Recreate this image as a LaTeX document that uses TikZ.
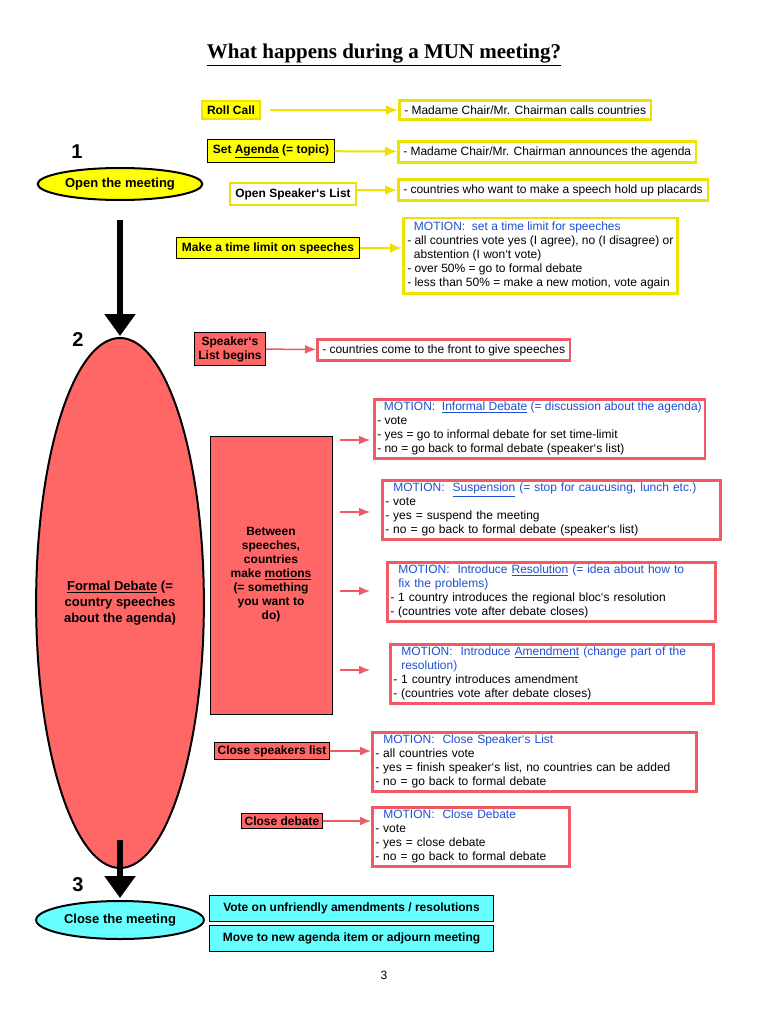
\documentclass[tikz,border=0pt]{standalone}
\usepackage{fontspec}
\setmainfont{Liberation Sans}
\newfontfamily\titlefont{Liberation Serif}
\usetikzlibrary{arrows.meta,positioning,shapes.geometric}
\definecolor{munyellow}{HTML}{FFFF00}
\definecolor{munyline}{HTML}{EEE000}
\definecolor{munred}{HTML}{FF6666}
\definecolor{munrline}{HTML}{F05A64}
\definecolor{muncyan}{HTML}{66FFFF}
\definecolor{munblue}{HTML}{1E50D2}
\newcommand{\bq}{{\char96}}
\begin{document}
\begin{tikzpicture}[x=1pt,y=-1pt,font=\fontsize{12}{14}\selectfont,
  ybox/.style={draw=munyline,line width=2pt,fill=munyellow,font=\fontsize{12}{14}\selectfont\bfseries,inner sep=5pt},
  ytext/.style={draw=munyline,line width=2.5pt,fill=white,anchor=north west,align=left,inner sep=5pt},
  rbox/.style={draw=munrline,line width=1.5pt,fill=munred,font=\fontsize{12}{14}\selectfont\bfseries,inner sep=4pt,align=center},
  rtext/.style={draw=munrline,line width=2.5pt,fill=white,anchor=north west,align=left,inner sep=3pt},
  cbox/.style={draw=black,line width=1pt,fill=muncyan,font=\fontsize{12}{14}\selectfont\bfseries,anchor=north west,minimum width=284pt,minimum height=26pt,align=left,inner sep=3pt},
  yarr/.style={-{Latex[length=12pt,width=10pt]},munyline,line width=2pt},
  rarr/.style={-{Latex[length=11pt,width=9pt]},munrline,line width=1.5pt},
  barr/.style={-{Triangle[length=22pt,width=30pt]},black,line width=6pt},
  num/.style={font=\fontsize{20}{22}\selectfont\bfseries}]
\useasboundingbox (0,0) rectangle (768,1024);
\node[font=\titlefont\fontsize{21}{24}\selectfont\bfseries] (title) at (384,55) {\underline{What happens during a MUN meeting?}};
% opening
\node[num] (n1) at (77,152) {1};
\node[ellipse,draw=black,line width=2pt,fill=munyellow,minimum width=158pt,minimum height=32pt,font=\fontsize{13}{15}\selectfont\bfseries] (open) at (120,184) {Open the meeting};
\node[ybox] (roll) at (231,110) {Roll Call};
\node[ytext,anchor=west] (rollT) at (398,110) {- Madame Chair/Mr. Chairman calls countries};
\path[yarr] (270,110) edge (rollT);
\node[ybox,draw=black,line width=1pt] (agenda) at (271,151) {Set \underline{Agenda} (= topic)};
\node[ytext,anchor=west] (agendaT) at (397,152) {- Madame Chair/Mr. Chairman announces the agenda};
\path[yarr] (agenda) edge (agendaT);
\node[ybox,fill=white] (speak) at (293,194) {Open Speaker\bq s List};
\node[ytext,anchor=west] (speakT) at (397,190) {- countries who want to make a speech hold up placards};
\path[yarr] (speak.east |- speakT) edge (speakT);
\node[ybox,draw=black,line width=1pt] (time) at (268,248) {Make a time limit on speeches};
\node[ytext,inner sep=4pt] (timeT) at (402,217) {\textcolor{munblue}{\ \ MOTION:\ \ set a time limit for speeches}\\- all countries vote yes (I agree), no (I disagree) or\\\ \ abstention (I won\bq t vote)\\- over 50\% = go to formal debate\\- less than 50\% = make a new motion, vote again};
\path[yarr] (time) edge (timeT.west |- time);
\path[barr] (120,220) edge (120,336);
% formal debate
\node[num] (n2) at (78,340) {2};
\node[ellipse,draw=black,line width=2pt,fill=munred,minimum width=160pt,minimum height=530pt,align=center,font=\fontsize{13}{16}\selectfont\bfseries] (debate) at (120,603) {\underline{Formal Debate} (=\\country speeches\\about the agenda)};
\node[rbox,draw=black,line width=1pt] (begins) at (230,349) {Speaker\bq s\\List begins};
\node[rtext,anchor=west,inner sep=5pt] (beginsT) at (316,350) {- countries come to the front to give speeches};
\path[rarr] (begins) edge (beginsT);
\node[rbox,draw=black,line width=1pt,minimum width=122pt,minimum height=278pt] (between) at (271,575) {Between\\speeches,\\countries\\make \underline{motions}\\(= something\\you want to\\do)};
\node[rtext] (m1) at (373,398) {\textcolor{munblue}{\ \ MOTION:\ \ \underline{Informal Debate} (= discussion about the agenda)}\\- vote\\- yes = go to informal debate for set time-limit\\- no = go back to formal debate (speaker\bq s list)};
\node[rtext,text width=332pt] (m2) at (381,479) {\textcolor{munblue}{\ \ MOTION:\ \ \underline{Suspension} (= stop for caucusing, lunch etc.)}\\- vote\\- yes = suspend the meeting\\- no = go back to formal debate (speaker\bq s list)};
\node[rtext,text width=322pt] (m3) at (386,561) {\textcolor{munblue}{\ \ MOTION:\ \ Introduce \underline{Resolution} (= idea about how to\\\ \ fix the problems)}\\- 1 country introduces the regional bloc\bq s resolution\\- (countries vote after debate closes)};
\node[rtext,text width=317pt] (m4) at (389,643) {\textcolor{munblue}{\ \ MOTION:\ \ Introduce \underline{Amendment} (change part of the\\\ \ resolution)}\\- 1 country introduces amendment\\- (countries vote after debate closes)};
\foreach \y/\m in {440/m1,512/m2,591/m3,670/m4}
  \path[rarr] (340,\y) edge (370,\y);
\node[rbox,draw=black,line width=1pt,inner sep=3pt] (closeL) at (272,751) {Close speakers list};
\node[rtext,text width=318pt] (closeLT) at (371,731) {\textcolor{munblue}{\ \ MOTION:\ \ Close Speaker\bq s List}\\- all countries vote\\- yes = finish speaker\bq s list, no countries can be added\\- no = go back to formal debate};
\path[rarr] (closeL) edge (closeLT.west |- closeL);
\node[rbox,draw=black,line width=1pt,inner sep=3pt] (closeD) at (282,821) {Close debate};
\node[rtext,text width=191pt] (closeDT) at (371,806) {\textcolor{munblue}{\ \ MOTION:\ \ Close Debate}\\- vote\\- yes = close debate\\- no = go back to formal debate};
\path[rarr] (closeD) edge (closeDT.west |- closeD);
\path[barr] (120,840) edge (120,898);
% closing
\node[num] (n3) at (78,885) {3};
\node[ellipse,draw=black,line width=2pt,fill=muncyan,minimum width=150pt,minimum height=38pt,font=\fontsize{13}{15}\selectfont\bfseries] (close) at (120,920) {Close the meeting};
\node[cbox] (vote) at (209,895) {Vote on unfriendly amendments / resolutions};
\node[cbox] (adjourn) at (209,925) {Move to new agenda item or adjourn meeting};
\node (page) at (384,975) {3};
\end{tikzpicture}
\end{document}
